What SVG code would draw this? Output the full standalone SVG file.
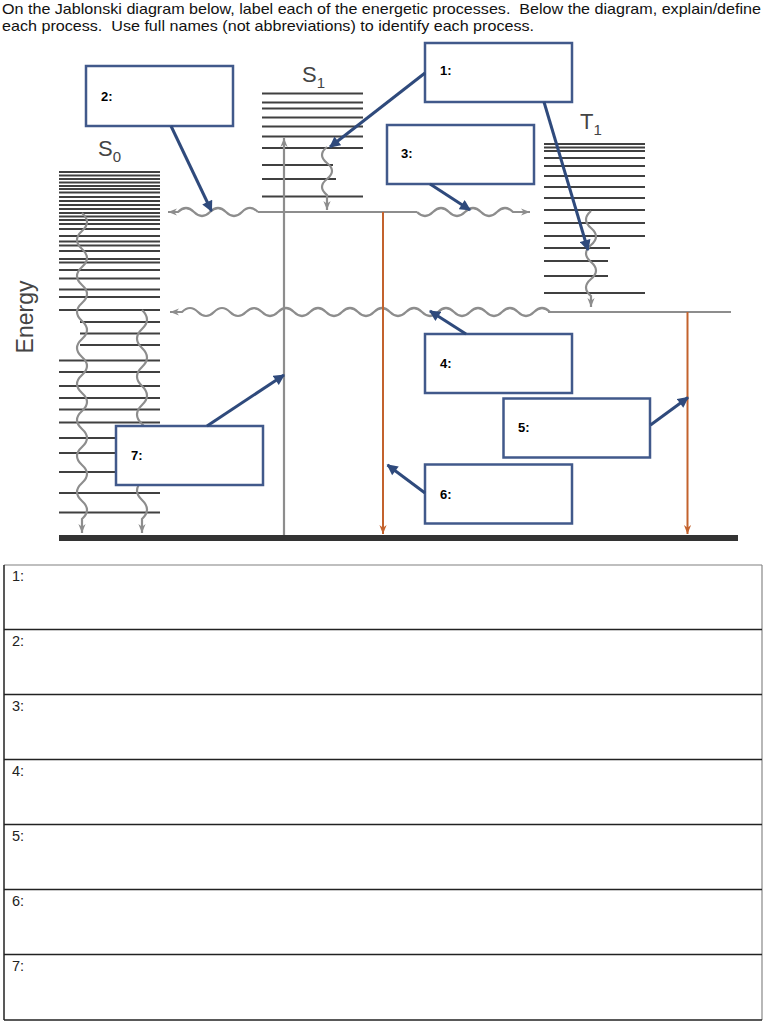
<svg xmlns="http://www.w3.org/2000/svg" width="768" height="1024" viewBox="0 0 768 1024">
<style>
.hdr{font-family:"Liberation Sans",Arial,sans-serif;font-size:15px;fill:#111}
.lvl{stroke:#404040;stroke-width:1.8;fill:none}
.gr{stroke:#8d8d8d;stroke-width:2.2;fill:none}
.or{stroke:#c3622d;stroke-width:2;fill:none}
.bl{stroke:#2f4a7c;stroke-width:3;fill:none}
.box{fill:#fff;stroke:#41598b;stroke-width:2.5}
.bt{font-family:"Liberation Sans",Arial,sans-serif;font-size:13px;font-weight:bold;fill:#000}
.st{font-family:"Liberation Sans",Arial,sans-serif;fill:#444}
.tl{font-family:"Liberation Sans",Arial,sans-serif;font-size:14.5px;fill:#222}
.row{stroke:#222;stroke-width:1.5}
</style>
<defs>
<marker id="ag" viewBox="0 0 10 10" refX="10" refY="5" markerWidth="9" markerHeight="9" markerUnits="userSpaceOnUse" orient="auto"><path d="M0,1 L10,5 L0,9 L3,5 z" fill="#8d8d8d"/></marker>
<marker id="ao" viewBox="0 0 10 10" refX="10" refY="5" markerWidth="9" markerHeight="9" markerUnits="userSpaceOnUse" orient="auto"><path d="M0,1 L10,5 L0,9 L3,5 z" fill="#c3622d"/></marker>
<marker id="ab" viewBox="0 0 10 10" refX="9" refY="5" markerWidth="12" markerHeight="11" markerUnits="userSpaceOnUse" orient="auto"><path d="M0,0 L10,5 L0,10 z" fill="#2f4a7c"/></marker>
</defs>
<rect width="768" height="1024" fill="#fff"/>
<g id="header">
<text class="hdr" x="2" y="13.5" xml:space="preserve" textLength="759" lengthAdjust="spacingAndGlyphs">On the Jablonski diagram below, label each of the energetic processes.  Below the diagram, explain/define</text>
<text class="hdr" x="2" y="31" xml:space="preserve" textLength="532" lengthAdjust="spacingAndGlyphs">each process.  Use full names (not abbreviations) to identify each process.</text>
</g>
<g id="energy-axis">
<text class="st" font-size="23" text-anchor="middle" transform="translate(33,317) rotate(-90)" fill="#555">Energy</text>
</g>
<g id="S0">
<text class="st" x="98" y="156" font-size="22">S<tspan font-size="15" dy="6">0</tspan></text>
<path class="lvl" d="M59,172H160M59,175.5H160M59,179H160M59,182.5H160M59,186H160M59,189H160M59,192.5H160M59,197H160M59,201H160M59,205H160M59,209H160M59,213H160M59,216.5H160M59,220H160M59,224H160M59,229H160M59,236H160M59,241.5H160M59,245.5H160M59,251H160M59,259H160M59,262.5H160M59,270H160M59,278.5H160M59,289.5H160M59,297H160M59,310H160M80,322H160M80,333.5H160M80,345H160M59,360.5H160M59,372H160M59,386H160M59,398H160M59,409.5H160M59,422.5H160M59,438H160M59,453H160M59,472H160M59,493H160M59,512.5H160"/>
</g>
<g id="S1">
<text class="st" x="302" y="82" font-size="22">S<tspan font-size="15" dy="6">1</tspan></text>
<path class="lvl" d="M262,93.5H363M262,102.5H363M262,108.5H363M262,117.5H363M262,126.5H363M262,136.5H363M262,148H363M262,165H333M262,179H336M262,196.5H363"/>
</g>
<g id="T1">
<text class="st" x="580" y="129" font-size="22">T<tspan font-size="15" dy="6">1</tspan></text>
<path class="lvl" d="M544,144H645M544,147.5H645M544,151H645M544,158H645M544,166H645M544,176H645M544,187H645M544,198H645M544,210H645M544,223H645M544,236H645M544,248H610M544,261H608M544,276H608M544,293H645"/>
</g>
<g id="ground">
<rect x="59" y="535" width="679" height="6" fill="#333"/>
</g>
<g id="transitions">
<path class="gr" d="M258,212H417"/>
<path class="gr" d="M548,312H731"/>
<path class="gr" marker-end="url(#ag)" d="M258,212q-8,-8 -16,0t-16,0t-16,0t-16,0t-16,0H168"/>
<path class="gr" marker-end="url(#ag)" d="M417,212q8,8 16,0t16,0t16,0t16,0t16,0t16,0H530"/>
<path class="gr" marker-end="url(#ag)" d="M550,312q-8,-8 -16,0t-16,0t-16,0t-16,0t-16,0t-16,0t-16,0t-16,0t-16,0t-16,0t-16,0t-16,0t-16,0t-16,0t-16,0t-16,0t-16,0t-16,0t-16,0t-16,0t-16,0t-16,0t-16,0H170"/>
<path class="gr" marker-end="url(#ag)" d="M82,213q10,9 0,18t0,18t0,18t0,18t0,18t0,18t0,18t0,18t0,18t0,18t0,18t0,18t0,18t0,18t0,18t0,18t0,18V533"/>
<path class="gr" marker-end="url(#ag)" d="M142,310q10,9.5 0,19t0,19t0,19t0,19t0,19t0,19t0,19t0,19t0,19t0,19t0,19V533"/>
<path class="gr" marker-end="url(#ag)" d="M327,147q-10,8 0,16t0,16t0,16V210"/>
<path class="gr" marker-end="url(#ag)" d="M591,211q-10,8.5 0,17t0,17t0,17t0,17t0,17V307"/>
<path class="gr" marker-end="url(#ag)" d="M284,535V138"/>
<path class="or" marker-end="url(#ao)" d="M383,212V534"/>
<path class="or" marker-end="url(#ao)" d="M687.5,312V534"/>
</g>
<g id="box1"><rect class="box" x="425" y="43" width="147" height="59"/><text class="bt" x="440" y="75">1:</text></g>
<g id="box2"><rect class="box" x="86" y="66" width="147" height="60"/><text class="bt" x="101" y="101">2:</text></g>
<g id="box3"><rect class="box" x="387" y="125" width="147" height="59"/><text class="bt" x="401" y="158">3:</text></g>
<g id="box4"><rect class="box" x="425" y="334" width="147" height="59"/><text class="bt" x="440" y="367.5">4:</text></g>
<g id="box5"><rect class="box" x="503.5" y="398.5" width="146.5" height="59"/><text class="bt" x="518" y="432">5:</text></g>
<g id="box6"><rect class="box" x="425" y="464.5" width="147" height="59"/><text class="bt" x="440" y="499">6:</text></g>
<g id="box7"><rect class="box" x="116" y="426" width="147" height="59"/><text class="bt" x="131" y="460">7:</text></g>
<g id="connectors">
<path class="bl" marker-end="url(#ab)" d="M171,126L211.5,211"/>
<path class="bl" marker-end="url(#ab)" d="M425,73L330,147"/>
<path class="bl" marker-end="url(#ab)" d="M544,102L588,250"/>
<path class="bl" marker-end="url(#ab)" d="M430,184L470,210"/>
<path class="bl" marker-end="url(#ab)" d="M466,334L430,311"/>
<path class="bl" marker-end="url(#ab)" d="M650.5,425L688,397.5"/>
<path class="bl" marker-end="url(#ab)" d="M425,493L387.5,465"/>
<path class="bl" marker-end="url(#ab)" d="M207,426L284,375"/>
</g>
<g id="table">
<line x1="4" y1="565" x2="762" y2="565" stroke="#aaa" stroke-width="1.5"/>
<line x1="4" y1="565" x2="4" y2="1020" stroke="#222" stroke-width="1.5"/>
<line x1="762" y1="565" x2="762" y2="1020" stroke="#888" stroke-width="1.2"/>
<line class="row" x1="4" y1="629.5" x2="762" y2="629.5"/>
<line class="row" x1="4" y1="694.5" x2="762" y2="694.5"/>
<line class="row" x1="4" y1="759.5" x2="762" y2="759.5"/>
<line class="row" x1="4" y1="824.5" x2="762" y2="824.5"/>
<line class="row" x1="4" y1="889.5" x2="762" y2="889.5"/>
<line class="row" x1="4" y1="954.5" x2="762" y2="954.5"/>
<line class="row" x1="4" y1="1020" x2="762" y2="1020"/>
<text class="tl" x="12" y="581">1:</text>
<text class="tl" x="12" y="646">2:</text>
<text class="tl" x="12" y="711">3:</text>
<text class="tl" x="12" y="776">4:</text>
<text class="tl" x="12" y="841">5:</text>
<text class="tl" x="12" y="906">6:</text>
<text class="tl" x="12" y="971">7:</text>
</g>
</svg>
